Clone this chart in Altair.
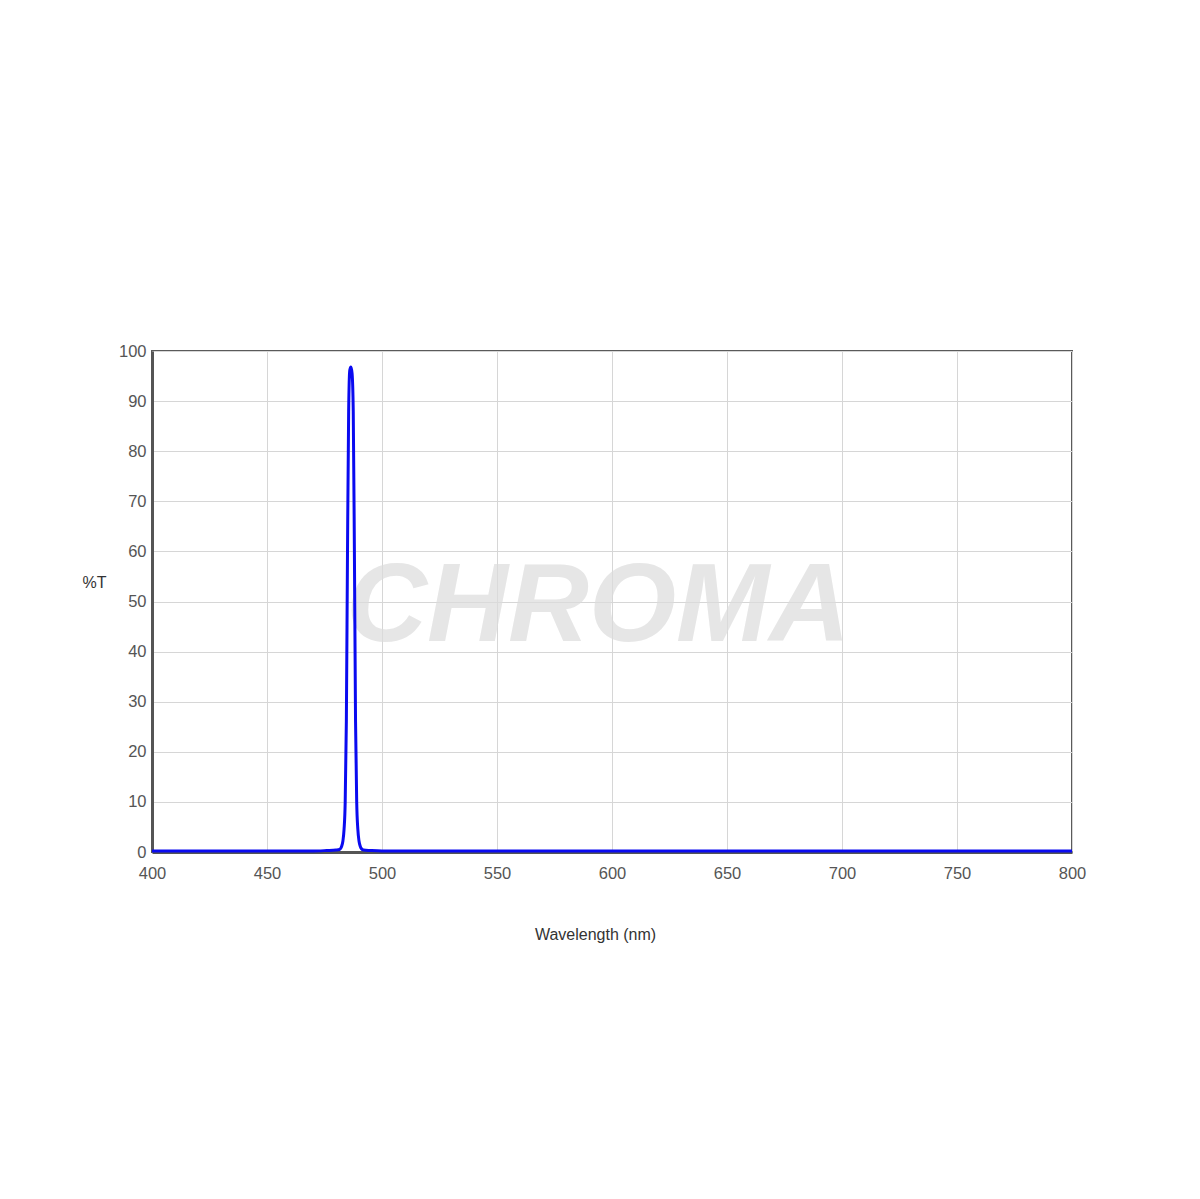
import altair as alt
import pandas as pd

# Spectrum (wavelength in nm, %T)
wavelength = [400, 420, 440, 460, 470, 476, 480, 481.5, 482, 482.5, 483, 483.5, 484, 484.5,
              485, 485.5, 486, 486.5, 487, 487.5, 488, 488.5, 489, 489.5, 490, 490.5, 491,
              492, 495, 500, 520, 550, 600, 650, 700, 750, 800]
transmission = [0.2, 0.2, 0.2, 0.2, 0.2, 0.3, 0.4, 0.5, 0.7, 1.2, 2.2, 4.5, 10, 26,
                60, 88, 96.2, 96.8, 95.5, 88, 60, 26, 10, 4.5, 2.2, 1.2, 0.7,
                0.4, 0.3, 0.2, 0.2, 0.2, 0.2, 0.2, 0.2, 0.2, 0.2]

x_ticks = [400, 450, 500, 550, 600, 650, 700, 750, 800]
y_ticks = [0, 10, 20, 30, 40, 50, 60, 70, 80, 90, 100]

watermark_text = ["CHROMA"]
watermark_x = [594]
watermark_y = [49]

df = pd.DataFrame({"wl": wavelength, "t": transmission})
wm = pd.DataFrame({"label": watermark_text, "wx": watermark_x, "wy": watermark_y})

xscale = alt.Scale(domain=[400, 800], nice=False, zero=False)
yscale = alt.Scale(domain=[0, 100], nice=False)

xaxis = alt.Axis(values=x_ticks, title="Wavelength (nm)", grid=True, gridColor="#d6d6d6",
                 gridWidth=1, domainColor="#555555", domainWidth=3, ticks=False,
                 labelFlush=False, labelOverlap=False,
                 labelPadding=13, labelFontSize=16.5, labelColor="#555555", labelFont="Arial",
                 titleFontSize=16, titleFont="Arial", titleFontWeight="normal", titleColor="#333333",
                 titleX=443, titleY=82, titleBaseline="middle", titleAnchor="start",
                 titleAlign="center")
yaxis = alt.Axis(values=y_ticks, title="%T", grid=True, gridColor="#d6d6d6", gridWidth=1,
                 domainColor="#555555", domainWidth=3, ticks=False, labelPadding=6,
                 labelFlush=False, labelOverlap=False,
                 labelFontSize=16.5, labelColor="#555555", labelFont="Arial",
                 titleFontSize=16, titleFont="Arial", titleFontWeight="normal", titleColor="#333333",
                 titleAngle=0, titleX=-58, titleY=231, titleBaseline="middle", titleAlign="center")

watermark = alt.Chart(wm).mark_text(
    text="CHROMA", font="Liberation Sans", fontSize=112, fontWeight="bold", fontStyle="italic",
    color="#dcdcdc", opacity=0.7, align="center", baseline="middle"
).encode(
    x=alt.X("wx:Q", scale=xscale, axis=xaxis),
    y=alt.Y("wy:Q", scale=yscale, axis=yaxis),
)

line = alt.Chart(df).mark_line(color="#0a0af0", strokeWidth=3, interpolate="monotone").encode(
    x=alt.X("wl:Q", scale=xscale, axis=xaxis),
    y=alt.Y("t:Q", scale=yscale, axis=yaxis),
)

chart = alt.layer(watermark, line).properties(
    width=920, height=501,
    autosize=alt.AutoSizeParams(type="none"),
    padding={"left": 144, "top": 343, "right": 120, "bottom": 339},
    background="white",
).configure_view(stroke="#5a5a5a", strokeWidth=2)

chart.save("out.html", embed_options={"renderer": "svg", "actions": False})
